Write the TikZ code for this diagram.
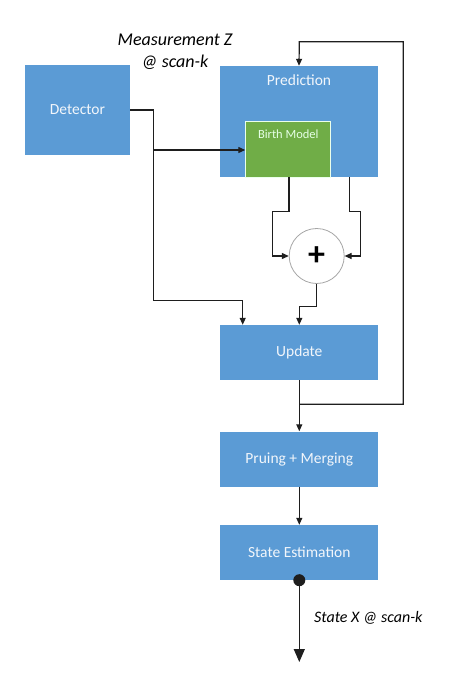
\documentclass[tikz,border=0pt]{standalone}
\usepackage{fontspec}
\setmainfont{Carlito}
\usetikzlibrary{arrows.meta,calc}
\definecolor{boxblue}{HTML}{5B9BD5}
\definecolor{boxgreen}{HTML}{70AD47}
\definecolor{linecol}{HTML}{1E1E1E}
\definecolor{txtwhite}{HTML}{F2F6FB}
\begin{document}
\begin{tikzpicture}[x=1pt,y=-1pt,
  box/.style={rectangle,fill=boxblue,draw=none,text=txtwhite,inner sep=0pt,
    minimum width=158pt,minimum height=55pt,font=\fontsize{15.5}{18}\selectfont},
  birthbox/.style={rectangle,fill=boxgreen,draw=green!8!white,line width=1pt,inner sep=0pt,
    minimum width=85pt,minimum height=56pt},
  sumnode/.style={circle,draw=gray!70,fill=white,line width=0.8pt,minimum size=55pt,inner sep=0pt,
    font=\fontsize{34}{34}\selectfont\bfseries},
  conn/.style={draw=linecol,line width=1.2pt},
  arr/.style={conn,-{Triangle[length=7pt,width=6pt]}},
  bigarr/.style={conn,-{Triangle[length=13pt,width=11pt]}},
  lbl/.style={font=\fontsize{18}{22}\selectfont\itshape,align=center,inner sep=0pt}
]
\useasboundingbox (0,0) rectangle (474,685);
% boxes
\node[box,minimum width=105pt,minimum height=90pt] (det) at (77.5,110) {Detector};
\node[box,minimum width=158pt,minimum height=111pt,
  label={[anchor=north,yshift=-8.5pt,text=txtwhite,font=\fontsize{15.5}{18}\selectfont,inner sep=0pt]north:Prediction}] (pred) at (299,121.5) {};
\node[birthbox,label={[anchor=north,yshift=-9pt,text=green!10!white,font=\fontsize{12.5}{15}\selectfont,inner sep=0pt]north:Birth Model}] (birth) at (288.3,149) {};
\node[sumnode] (sum) at (316.7,256) {+};
\node[box] (upd) at (299.3,352.5) {Update};
\node[box] (prune) at (299.3,459) {Pruing + Merging};
\node[box] (state) at (299.3,552.5) {State Estimation};
% labels
\node[lbl] (meas) at (175,52) {Measurement Z\\@ scan-k};
\node[lbl,font=\fontsize{16}{18}\selectfont\itshape,anchor=west] (statelbl) at (314,617.7) {State X @ scan-k};
% coordinates
\coordinate (dA) at (153.3,110);
\coordinate (dB) at (153.3,300.7);
\coordinate (dC) at (242.7,300.7);
\coordinate (dBr) at (153.3,150);
\coordinate (bA) at (289,211.7);
\coordinate (bB) at (272.7,211.7);
\coordinate (bBot) at (289,177);
\coordinate (pBot) at (349.3,177);
\coordinate (pA) at (349.3,211.7);
\coordinate (pB) at (360.7,211.7);
\coordinate (sA) at (316.7,306.7);
\coordinate (sB) at (299.3,306.7);
\coordinate (fA) at (299.3,404.3);
\coordinate (fB) at (403.3,404.3);
\coordinate (fC) at (403.3,41.7);
\coordinate (fD) at (299.3,41.7);
\coordinate (outEnd) at (299.3,662);
% connectors
\draw[arr] (det.east |- dA) -- (dA) -- (dB) -- (dC) -- (dC |- upd.north);
\draw[arr] (dBr) -- (birth.west |- dBr);
\draw[arr] (bBot) -- (bA) -- (bB) -- (bB |- sum.west) -- (sum.west);
\draw[arr] (pBot) -- (pA) -- (pB) -- (pB |- sum.east) -- (sum.east);
\draw[arr] (sum.south) -- (sA) -- (sB) -- (sB |- upd.north);
\draw[arr] (upd.south) -- (prune.north);
\draw[arr] (fA) -- (fB) -- (fC) -- (fD) -- (pred.north);
\draw[arr] (prune.south) -- (state.north);
\draw[bigarr] (state.south) -- (outEnd);
\fill[linecol] (state.south) circle (6pt);
\end{tikzpicture}
\end{document}
